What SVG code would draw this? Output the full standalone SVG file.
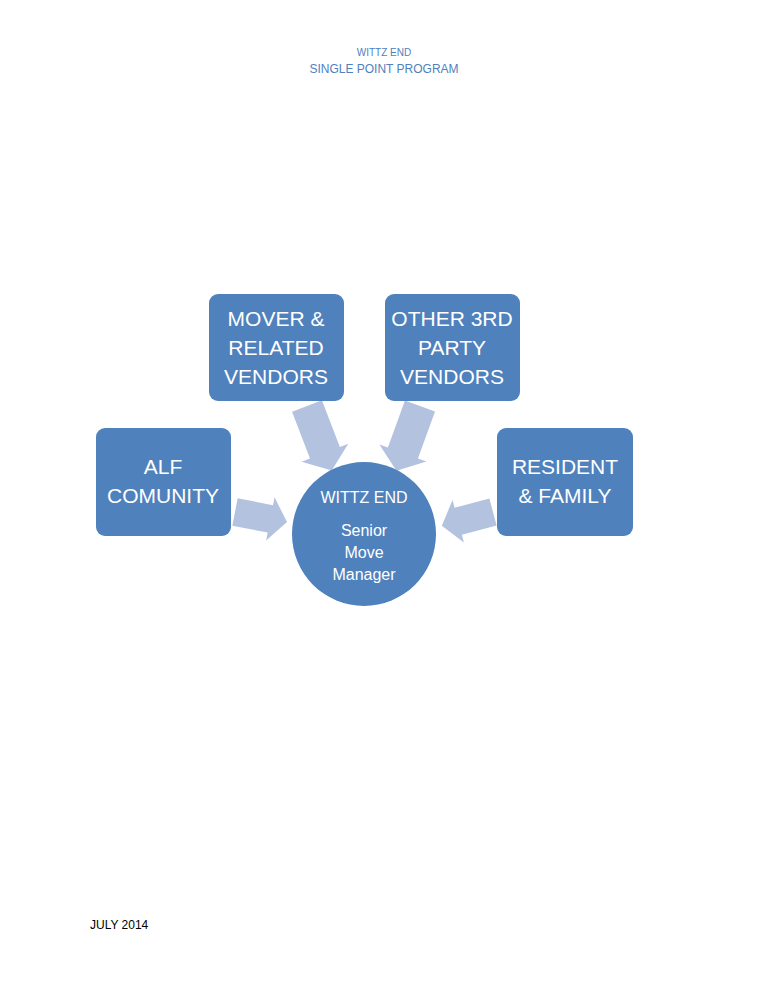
<svg xmlns="http://www.w3.org/2000/svg" width="768" height="994" viewBox="0 0 768 994">
<style>
.box{fill:#4f81bd}
.arr{fill:#b3c3df}
.t{font-family:"Liberation Sans",Arial,sans-serif;fill:#fff;text-anchor:middle;font-size:21px}
.s{font-family:"Liberation Sans",Arial,sans-serif;fill:#fff;text-anchor:middle;font-size:16px}
.h{font-family:"Liberation Sans",Arial,sans-serif;fill:#4f81bd;text-anchor:middle}
</style>
<defs>
<polygon id="a" points="0,-14 0,14 0,14"/>
</defs>
<rect width="768" height="994" fill="#fff"/>
<text class="h" x="384" y="56" font-size="10">WITTZ END</text>
<text class="h" x="384" y="73" font-size="12">SINGLE POINT PROGRAM</text>
<text x="90" y="929" font-family="Liberation Sans,Arial,sans-serif" font-size="12" fill="#000">JULY 2014</text>
<g id="connectors">
<polygon class="arr" transform="translate(235,512) rotate(11)" points="0,-14 36,-14 36,-22 53,0 36,22 36,14 0,14"/>
<polygon class="arr" transform="translate(307,406) rotate(69)" points="0,-16 50,-16 50,-25 69,0 50,25 50,16 0,16"/>
<polygon class="arr" transform="translate(420,406) rotate(110)" points="0,-16 50,-16 50,-25 69,0 50,25 50,16 0,16"/>
<polygon class="arr" transform="translate(493,512) rotate(165)" points="0,-14 36,-14 36,-22 53,0 36,22 36,14 0,14"/>
</g>
<g id="alf"><rect class="box" x="96" y="428" width="135" height="108" rx="9"/>
<text class="t" x="163" y="474">ALF</text><text class="t" x="163" y="503">COMUNITY</text></g>
<g id="mover"><rect class="box" x="209" y="294" width="135" height="107" rx="9"/>
<text class="t" x="276" y="326">MOVER &amp;</text><text class="t" x="276" y="355">RELATED</text><text class="t" x="276" y="384">VENDORS</text></g>
<g id="other"><rect class="box" x="385" y="294" width="135" height="107" rx="9"/>
<text class="t" x="452" y="326">OTHER 3RD</text><text class="t" x="452" y="355">PARTY</text><text class="t" x="452" y="384">VENDORS</text></g>
<g id="resident"><rect class="box" x="497" y="428" width="136" height="108" rx="9"/>
<text class="t" x="565" y="474">RESIDENT</text><text class="t" x="565" y="503">&amp; FAMILY</text></g>
<g id="center"><circle class="box" cx="364" cy="534" r="72"/>
<text class="s" x="364" y="503">WITTZ END</text><text class="s" x="364" y="536">Senior</text><text class="s" x="364" y="558">Move</text><text class="s" x="364" y="580">Manager</text></g>
</svg>
